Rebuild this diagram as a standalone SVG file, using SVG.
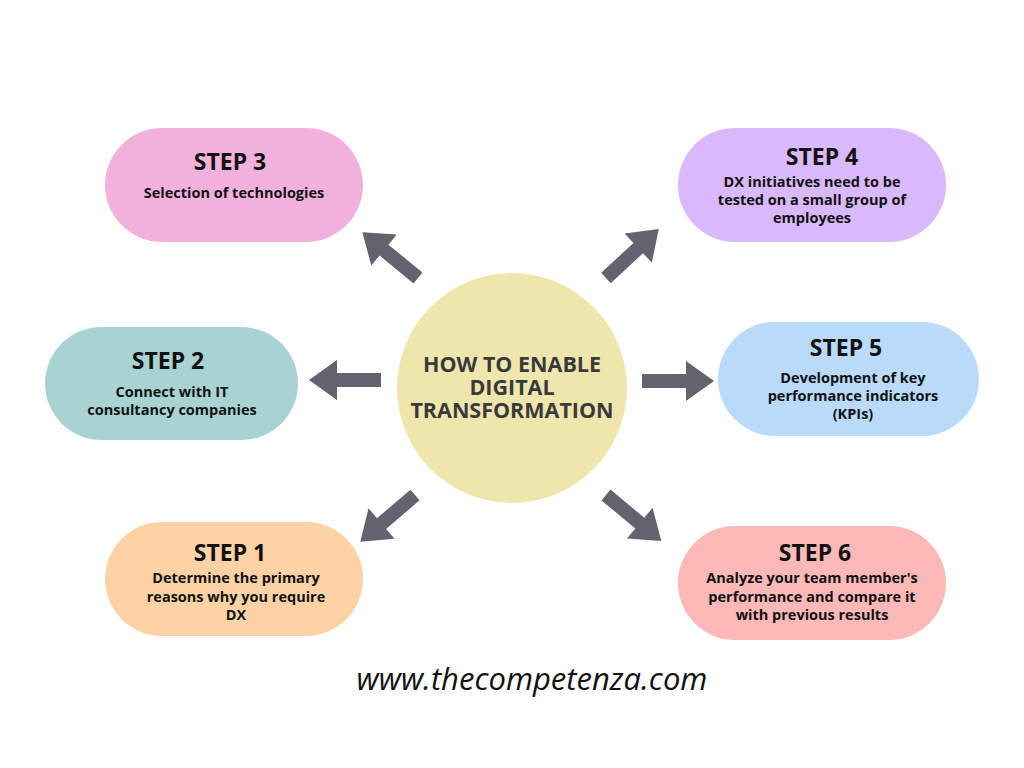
<svg xmlns="http://www.w3.org/2000/svg" width="1024" height="768" viewBox="0 0 1024 768">
<style>
.h{font-family:"Open Sans","Liberation Sans",sans-serif;font-weight:700;font-size:23px;fill:#111;text-anchor:middle}
.d{font-family:"Open Sans","Liberation Sans",sans-serif;font-weight:700;font-size:14.5px;fill:#111;text-anchor:middle}
.t{font-family:"Open Sans","Liberation Sans",sans-serif;font-weight:700;font-size:21.5px;fill:#3a3a3a;text-anchor:middle}
.u{font-family:"Open Sans","Liberation Sans",sans-serif;font-style:italic;font-size:31px;fill:#111;text-anchor:middle}
</style>
<defs><path id="ar" d="M0,-7 L44,-7 L44,-20 L72,0 L44,20 L44,7 L0,7 Z" fill="#63626f"/></defs>
<rect width="1024" height="768" fill="#fff"/>
<g id="center"><circle cx="512" cy="388" r="115" fill="#efe6ad"/>
<text class="t" x="512" y="372">HOW TO ENABLE</text><text class="t" x="512" y="395">DIGITAL</text><text class="t" x="512" y="418">TRANSFORMATION</text></g>
<g id="step3"><rect x="105" y="128" width="258" height="114" rx="57" fill="#f2b1dc"/>
<text class="h" x="230" y="170">STEP 3</text><text class="d" x="234" y="198">Selection of technologies</text></g>
<g id="step4"><rect x="678" y="128" width="268" height="114" rx="57" fill="#d9b8fb"/>
<text class="h" x="822" y="165">STEP 4</text><text class="d" x="812" y="187">DX initiatives need to be</text><text class="d" x="812" y="205">tested on a small group of</text><text class="d" x="812" y="223">employees</text></g>
<g id="step2"><rect x="45" y="327" width="253" height="113" rx="56.5" fill="#a9d3d3"/>
<text class="h" x="168" y="369">STEP 2</text><text class="d" x="172" y="397">Connect with IT</text><text class="d" x="172" y="415">consultancy companies</text></g>
<g id="step5"><rect x="718" y="322" width="261" height="114" rx="57" fill="#b9daf9"/>
<text class="h" x="846" y="356">STEP 5</text><text class="d" x="853" y="383">Development of key</text><text class="d" x="853" y="401">performance indicators</text><text class="d" x="853" y="419">(KPIs)</text></g>
<g id="step1"><rect x="105" y="522" width="258" height="114" rx="57" fill="#fdd3a6"/>
<text class="h" x="230" y="561">STEP 1</text><text class="d" x="236" y="583">Determine the primary</text><text class="d" x="236" y="602">reasons why you require</text><text class="d" x="236" y="620">DX</text></g>
<g id="step6"><rect x="678" y="526" width="268" height="114" rx="57" fill="#fdb8b8"/>
<text class="h" x="815" y="561">STEP 6</text><text class="d" x="812" y="583">Analyze your team member's</text><text class="d" x="812" y="602">performance and compare it</text><text class="d" x="812" y="620">with previous results</text></g>
<g id="connectors">
<use href="#ar" transform="translate(381,380) rotate(180)"/>
<use href="#ar" transform="translate(642,381)"/>
<use href="#ar" transform="translate(418,278) rotate(219.4)"/>
<use href="#ar" transform="translate(606,278) rotate(-42.9)"/>
<use href="#ar" transform="translate(415,495) rotate(139.5)"/>
<use href="#ar" transform="translate(606,495) rotate(39.8)"/>
</g>
<text class="u" x="532" y="690">www.thecompetenza.com</text>
</svg>
